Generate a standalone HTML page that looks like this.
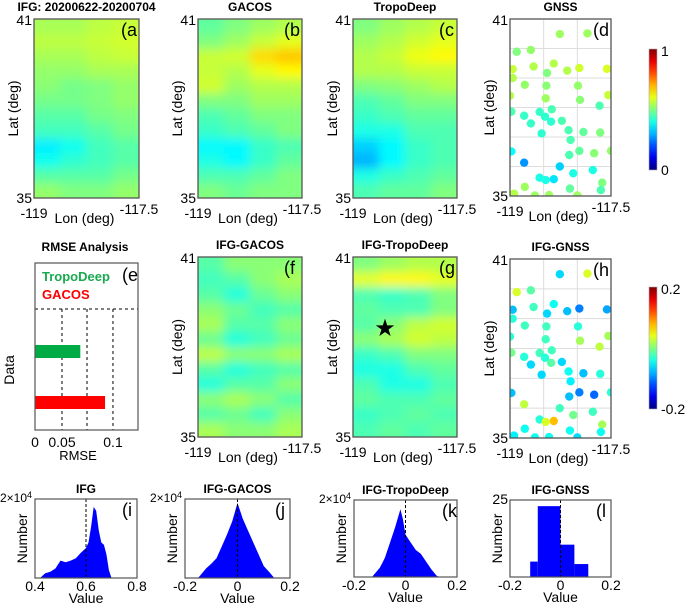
<!DOCTYPE html>
<html><head><meta charset="utf-8"><style>
html,body{margin:0;padding:0;background:#fff;}
svg{display:block;font-family:"Liberation Sans",Arial,sans-serif;}
</style></head><body>
<svg id="fig" width="685" height="606" viewBox="0 0 685 606" xmlns="http://www.w3.org/2000/svg">
<defs>
<filter id="blur" x="-20%" y="-20%" width="140%" height="140%"><feGaussianBlur stdDeviation="5"/></filter>
<linearGradient id="jetgrad" x1="0" y1="1" x2="0" y2="0"></linearGradient>
</defs>
</svg>
<script>
// ---- data ----
const mapA=[[.54,.54,.56,.57],[.56,.56,.57,.58],[.54,.54,.56,.57],[.52,.52,.54,.54],[.51,.49,.5,.52],[.49,.49,.5,.52],[.46,.46,.49,.5],[.44,.44,.46,.49],[.36,.39,.44,.46],[.39,.42,.44,.46],[.46,.46,.46,.49],[.52,.5,.5,.52]];
const mapB=[[.47,.5,.53,.55],[.5,.53,.57,.6],[.57,.58,.66,.68],[.57,.55,.6,.63],[.58,.53,.55,.55],[.5,.5,.53,.53],[.45,.47,.5,.5],[.43,.45,.47,.5],[.37,.37,.43,.45],[.4,.37,.43,.47],[.45,.45,.47,.5],[.5,.48,.5,.5]];
const mapC=[[.5,.53,.55,.57],[.53,.55,.58,.6],[.55,.57,.61,.63],[.55,.55,.57,.57],[.5,.51,.53,.55],[.45,.47,.5,.5],[.43,.45,.47,.47],[.4,.4,.45,.45],[.33,.37,.43,.45],[.3,.37,.43,.45],[.4,.43,.45,.47],[.45,.47,.47,.5]];
const mapF=[[.46,.51,.51,.51],[.44,.46,.51,.54],[.46,.41,.48,.51],[.51,.48,.44,.46],[.54,.46,.46,.51],[.48,.41,.44,.48],[.56,.51,.51,.54],[.46,.41,.44,.46],[.41,.46,.46,.51],[.51,.54,.51,.46],[.46,.48,.44,.51],[.54,.51,.51,.54]];
const mapG=[[.5,.53,.55,.55],[.6,.63,.63,.6],[.45,.43,.45,.5],[.47,.45,.45,.5],[.46,.51,.56,.58],[.51,.54,.58,.56],[.43,.45,.5,.5],[.4,.4,.45,.47],[.45,.4,.4,.45],[.47,.45,.45,.47],[.43,.45,.47,.45],[.45,.47,.45,.47]];
const stLon=[-118.26,-117.85,-118.90,-118.69,-118.35,-118.65,-118.96,-118.45,-118.15,-117.97,-117.56,-118.96,-118.78,-118.46,-117.99,-119.0,-118.47,-117.96,-117.54,-117.67,-118.38,-118.98,-118.56,-118.79,-118.48,-118.69,-118.39,-118.23,-118.13,-117.91,-117.66,-118.53,-118.10,-118.98,-117.97,-118.12,-117.75,-117.5,-118.79,-118.26,-118.06,-117.77,-118.56,-118.47,-118.35,-117.63,-118.78,-118.11,-117.65,-118.94,-118.63,-118.42,-118.00];
const stLat=[40.49,40.51,39.89,39.95,39.49,39.39,39.30,39.17,39.25,39.34,39.31,39.00,38.77,38.74,38.74,38.40,38.31,38.26,38.42,38.06,37.94,37.86,37.85,37.72,37.69,37.46,37.52,37.55,37.23,37.17,37.15,37.12,36.90,36.51,36.53,36.39,36.45,36.53,36.13,36.00,35.77,35.88,35.62,35.54,35.57,35.45,35.31,35.25,35.20,35.08,35.02,35.03,35.02];
const gnssVal=[.53,.53,.5,.52,.55,.55,.57,.5,.55,.58,.59,.55,.52,.51,.52,.55,.53,.51,.57,.45,.45,.45,.43,.43,.42,.43,.42,.45,.45,.47,.5,.42,.45,.38,.47,.45,.51,.52,.27,.33,.4,.4,.4,.4,.35,.5,.53,.47,.45,.55,.53,.53,.53];
const ifgGnssVal=[-.065,.035,.035,-.015,-.045,-.025,-.075,-.065,-.075,-.1,-.085,-.035,-.025,-.025,-.035,-.035,-.025,.015,.015,.025,-.025,-.005,-.025,-.035,-.035,-.065,-.015,-.065,-.045,-.075,-.035,-.065,-.055,-.075,-.1,-.075,-.11,-.035,.025,-.025,-.005,-.025,-.035,.035,.075,.015,-.045,-.045,-.045,-.055,-.045,-.045,-.065];
const rmseNames=["TropoDeep","GACOS"];
const rmseVals=[0.044,0.068];
const histIx=[0.42,0.44,0.46,0.48,0.50,0.52,0.54,0.56,0.58,0.60,0.61,0.62,0.63,0.64,0.65,0.66,0.67,0.68,0.69,0.70];
const histIy=[0,1200,1600,2400,4400,4000,4400,5000,6400,7600,9000,13000,18000,17000,12000,9000,8400,6000,2000,0];
const histJx=[-0.15,-0.12,-0.10,-0.08,-0.06,-0.04,-0.02,0,0.02,0.04,0.06,0.08,0.10,0.12,0.14];
const histJy=[0,2400,3600,5000,8000,11000,14400,19000,15000,12000,9000,6000,3000,1600,0];
const histKx=[-0.13,-0.10,-0.08,-0.06,-0.04,-0.02,-0.01,0,0.02,0.04,0.06,0.08,0.10,0.12,0.13];
const histKy=[0,2400,5000,9000,13000,17600,15000,11000,9000,7000,6000,4000,2000,400,0];
const histLedges=[-0.12,-0.09,0,0.055,0.11];
const histLcounts=[5,23,10.5,4.2];

// ---- helpers ----
const svg=document.getElementById('fig');
const NS="http://www.w3.org/2000/svg";
function mk(tag,attrs,parent){const e=document.createElementNS(NS,tag);for(const k in attrs)e.setAttribute(k,attrs[k]);(parent||svg).appendChild(e);return e;}
function txt(s,x,y,size,opt,parent){opt=opt||{};const e=mk('text',{x:x,y:y,'font-size':size,'text-anchor':opt.anchor||'start',fill:opt.fill||'#000','font-weight':opt.bold?'bold':'normal'},parent);if(opt.rot)e.setAttribute('transform','rotate(-90 '+x+' '+y+')');e.textContent=s;return e;}
function jet(t){t=Math.max(0,Math.min(1,t));const r=Math.max(0,Math.min(1,1.5-Math.abs(4*t-3))),g=Math.max(0,Math.min(1,1.5-Math.abs(4*t-2))),b=Math.max(0,Math.min(1,1.5-Math.abs(4*t-1)));return 'rgb('+Math.round(r*255)+','+Math.round(g*255)+','+Math.round(b*255)+')';}
const gr=document.getElementById('jetgrad');
for(let i=0;i<=10;i++){mk('stop',{offset:(i*10)+'%','stop-color':jet(i/10)},gr);}

let clipN=0;
function mapAxes(x,y,w,h,title,letter){
  txt(title,x+w/2,y-8,12,{anchor:'middle',bold:true});
  const t1=txt('41',x-2,y+6,14,{anchor:'end'});
  const t2=txt('35',x-2,y+h+5,14,{anchor:'end'});
  txt('-119',x,y+h+20,14,{anchor:'middle'});
  txt('-117.5',x+w,y+h+16,14,{anchor:'middle'});
  const lx=txt('Lon (deg)',x+w/2-2,y+h+25,14,{anchor:'middle'});
  const ly=txt('Lat (deg)',x-16,y+h/2,14,{anchor:'middle',rot:true});
  const b=mk('rect',{x:x,y:y,width:w,height:h,fill:'none',stroke:'#555','stroke-width':1.3});
  
  txt(letter,x+w-18,y+17,18);
}
function heatmap(x,y,w,h,grid,name,title,letter){
  const g=mk('g',{});
  
  
  clipN++;const cp=mk('clipPath',{id:'cp'+clipN},svg.querySelector('defs'));mk('rect',{x:x,y:y,width:w,height:h},cp);
  g.setAttribute('clip-path','url(#cp'+clipN+')');
  const inner=mk('g',{filter:'url(#blur)'},g);
  const R=grid.length,C=grid[0].length,cw=w/C,ch=h/R;
  for(let r=0;r<R;r++)for(let c=0;c<C;c++){
    let rx=x+c*cw,ry=y+r*ch,rw=cw+0.5,rh=ch+0.5;
    if(c===0){rx-=15;rw+=15;} if(c===C-1){rw+=15;}
    if(r===0){ry-=15;rh+=15;} if(r===R-1){rh+=15;}
    const cell=mk('rect',{x:rx,y:ry,width:rw,height:rh,fill:jet(grid[r][c])},inner);
    
    
  }
  mapAxes(x,y,w,h,title,letter);
}
function gnss(x,y,w,h,vals,vmin,vmax,name,title,letter){
  const g=mk('g',{});
  
  
  const sx=lon=>x+(lon+119)/1.5*w, sy=lat=>y+(41-lat)/6*h;
  clipN++;const cp=mk('clipPath',{id:'cp'+clipN},svg.querySelector('defs'));mk('rect',{x:x,y:y,width:w,height:h},cp);
  g.setAttribute('clip-path','url(#cp'+clipN+')');
  [-118.5,-118].forEach(l=>mk('line',{x1:sx(l),x2:sx(l),y1:y,y2:y+h,stroke:'#ddd','stroke-width':1},g));
  [40,39,38,37,36].forEach(l=>mk('line',{x1:x,x2:x+w,y1:sy(l),y2:sy(l),stroke:'#ddd','stroke-width':1},g));
  for(let i=0;i<stLon.length;i++){
    const c=mk('circle',{cx:sx(stLon[i]),cy:sy(stLat[i]),r:4.2,fill:jet((vals[i]-vmin)/(vmax-vmin))},g);
    
    
  }
  mapAxes(x,y,w,h,title,letter);
}
function colorbar(x,y,h,top,bot,name){
  const r=mk('rect',{x:x,y:y,width:8,height:h,fill:'url(#jetgrad)',stroke:'#aab','stroke-width':0.6});
  
  
  txt(top,x+12,y+7,14);txt(bot,x+12,y+h+5,14);
}
function hist(x,y,w,h,xmin,xmax,ymax,xs,ys,ticks,ylab,title,letter,name){
  const sx=v=>x+(v-xmin)/(xmax-xmin)*w, sy=v=>y+h-v/ymax*h;
  txt(title,x+w/2,y-6,12,{anchor:'middle',bold:true});
  const g=mk('g',{});
  
  
  let d='M'+sx(xs[0])+','+(y+h);
  for(let i=0;i<xs.length;i++)d+=' L'+sx(xs[i]).toFixed(1)+','+sy(ys[i]).toFixed(1);
  d+=' L'+sx(xs[xs.length-1])+','+(y+h)+'Z';
  const p=mk('path',{d:d,fill:'#0000ff'},g);
  
  
  histFrame(x,y,w,h,sx,ticks,ylab,letter,xmin,xmax);
}
function histFrame(x,y,w,h,sx,ticks,ylab,letter,xmin,xmax){
  const mid=(xmin+xmax)/2;
  mk('line',{x1:sx(mid),x2:sx(mid),y1:y,y2:y+h,stroke:'#000','stroke-width':1,'stroke-dasharray':'3,2'});
  mk('rect',{x:x,y:y,width:w,height:h,fill:'none',stroke:'#555','stroke-width':1.2});
  ticks.forEach(t=>{const e=txt(t.l,sx(t.v),y+h+13,14,{anchor:'middle'});});
  txt('Value',x+w/2,y+h+25,14,{anchor:'middle'});
  txt('Number',x-8,y+h/2,14,{anchor:'middle',rot:true});
  if(ylab==='25'){txt('25',x-2,y+4,14,{anchor:'end'});}
  else{const e=mk('text',{x:x-35,y:y+3,'font-size':12});e.innerHTML='2×10<tspan dy="-4" font-size="9">4</tspan>';}
  txt(letter,x+w-15,y+17,18);
}

// ---- draw maps ----
heatmap(34,19,105,179,mapA,'ifg-map','IFG: 20200622-20200704','(a');
heatmap(198,19,104,179,mapB,'gacos-map','GACOS','(b');
heatmap(353,19,104,179,mapC,'tropodeep-map','TropoDeep','(c');
gnss(510,19,101,177,gnssVal,0,1,'gnss-map','GNSS','(d');
heatmap(198,257,104,180,mapF,'ifg-gacos-map','IFG-GACOS','(f');
heatmap(353,257,104,180,mapG,'ifg-tropodeep-map','IFG-TropoDeep','(g');
gnss(510,259,101,179,ifgGnssVal,-0.2,0.2,'ifg-gnss-map','IFG-GNSS','(h');
colorbar(649,49,121,'1','0','colorbar-top');
colorbar(649,287,122,'0.2','-0.2','colorbar-bottom');

// star
const star=mk('text',{x:385,y:336,'font-size':24,'text-anchor':'middle',fill:'#000'});


star.textContent='★';

// ---- RMSE panel ----
(function(){
  const x=35,y=263,w=103,h=167;
  const sx=v=>x+v/0.1*w;
  txt('RMSE Analysis',85,251,12,{anchor:'middle',bold:true});
  const l1=txt('TropoDeep',42,281,13,{bold:true,fill:'#1aaa50'});
  const l2=txt('GACOS',42,299,13,{bold:true,fill:'#ff0000'});
  txt('(e',x+w-16,y+18,18);
  mk('line',{x1:x,x2:x+w,y1:309,y2:309,stroke:'#000','stroke-dasharray':'3,3'});
  [0.0262,0.0505,0.0757].forEach(v=>mk('line',{x1:sx(v),x2:sx(v),y1:309,y2:y+h,stroke:'#000','stroke-dasharray':'3,3'}));
  const ys=[345,396],cols=['#00aa44','#ff0000'];
  rmseVals.forEach((v,i)=>{const b=mk('rect',{x:x,y:ys[i],width:sx(v)-x,height:13,fill:cols[i]});});
  mk('rect',{x:x,y:y,width:w,height:h,fill:'none',stroke:'#555','stroke-width':1.2});
  txt('0',35,447,14,{anchor:'middle'});txt('0.05',62,447,14,{anchor:'middle'});txt('0.1',113,447,14,{anchor:'middle'});
  const xt=txt('RMSE',78,460,13,{anchor:'middle'});
  const yt=txt('Data',14,370,14,{anchor:'middle',rot:true});
})();

// ---- histograms ----
hist(35,499,102,79,0.4,0.8,20000,histIx,histIy,[{v:0.4,l:'0.4'},{v:0.6,l:'0.6'},{v:0.8,l:'0.8'}],'2e4','IFG','(i','hist-ifg');
hist(185,499,105,79,-0.2,0.2,20000,histJx,histJy,[{v:-0.2,l:'-0.2'},{v:0,l:'0'},{v:0.2,l:'0.2'}],'2e4','IFG-GACOS','(j','hist-ifg-gacos');
hist(354,500,103,77,-0.2,0.2,20000,histKx,histKy,[{v:-0.2,l:'-0.2'},{v:0,l:'0'},{v:0.2,l:'0.2'}],'2e4','IFG-TropoDeep','(k','hist-ifg-tropodeep');
(function(){
  const x=510,y=500,w=101,h=77,xmin=-0.2,xmax=0.2,ymax=25;
  const sx=v=>x+(v-xmin)/(xmax-xmin)*w, sy=v=>y+h-v/ymax*h;
  txt('IFG-GNSS',x+w/2,y-6,12,{anchor:'middle',bold:true});
  for(let i=0;i<histLcounts.length;i++){
    const b=mk('rect',{x:sx(histLedges[i]),y:sy(histLcounts[i]),width:sx(histLedges[i+1])-sx(histLedges[i]),height:y+h-sy(histLcounts[i]),fill:'#0000ff'});
    
    
  }
  histFrame(x,y,w,h,sx,[{v:-0.2,l:'-0.2'},{v:0,l:'0'},{v:0.2,l:'0.2'}],'25','(l',xmin,xmax);
})();
</script>
</body></html>
